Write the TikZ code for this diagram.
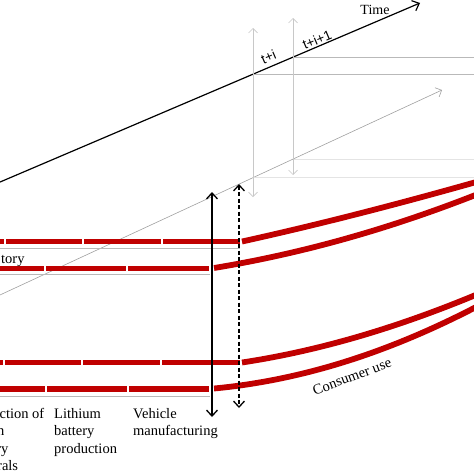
\documentclass[tikz,border=0pt]{standalone}
\usepackage{fontspec}
\setmainfont{Liberation Serif}
\newfontfamily\sansf{Liberation Sans}
\usetikzlibrary{arrows.meta}
\definecolor{bandred}{RGB}{192,0,0}
\definecolor{axisgray}{RGB}{160,160,160}
\definecolor{linegray}{RGB}{185,185,185}
\definecolor{vgray}{RGB}{200,200,200}
\definecolor{faintgray}{RGB}{228,228,228}
\begin{document}
\begin{tikzpicture}[x=1pt,y=-1pt,
  band/.style={bandred,line width=5.8pt},
  gapline/.style={white,line width=1.6pt},
  underline/.style={linegray,line width=0.6pt},
  hline/.style={linegray,line width=0.8pt},
  faintline/.style={faintgray,line width=0.6pt},
  garrow/.style={vgray,line width=0.7pt,{Straight Barb[length=4.5pt,width=9pt]}-{Straight Barb[length=4.5pt,width=9pt]}},
  barrow/.style={black,line width=1.3pt,{Straight Barb[length=6pt,width=11pt,line width=1.3pt]}-{Straight Barb[length=6pt,width=11pt,line width=1.3pt]}},
  lbl/.style={font=\fontsize{14.5}{17.5}\selectfont,inner sep=0pt,align=left},
  tlbl/.style={font=\sansf\fontsize{13.5}{15}\selectfont,inner sep=0pt},
]
\useasboundingbox (0,0) rectangle (474,474);
\clip (0,0) rectangle (474,474);

% axes
\coordinate (g0) at (-10,299.6);
\coordinate (g1) at (442,90);
\draw[axisgray,line width=0.6pt,-{Straight Barb[length=5pt,width=10pt]}] (g0) -- (g1);
\coordinate (t0) at (-10,186.3);
\coordinate (t1) at (420,3);
\draw[black,line width=1.2pt,-{Straight Barb[length=6pt,width=11pt,line width=1.2pt]}] (t0) -- (t1);
\node[font=\fontsize{14}{16}\selectfont,inner sep=0pt] (time) at (375,10) {Time};

% horizontal gray lines
\draw[hline] (253,74) -- (474,74);
\draw[hline] (293,57) -- (474,57);
\draw[faintline] (253,177.7) -- (474,177.7);
\draw[faintline] (293,159) -- (474,159);

% vertical gray double arrows
\coordinate (a1) at (253,28);
\coordinate (a2) at (253,197);
\coordinate (b1) at (293,18);
\coordinate (b2) at (293,175);
\draw[garrow] (a1) -- (a2);
\draw[garrow] (b1) -- (b2);
\node[tlbl,rotate=23] (ti) at (268.5,57) {t+i};
\node[tlbl,rotate=23] (ti1) at (317,39.5) {t+i+1};

% thin gray lines under bands
\draw[underline] (0,248) -- (240,248);
\draw[underline] (0,274.5) -- (210,274.5);
\draw[underline] (0,396) -- (210,396);

% red bands
\draw[band] (-5,241.5) -- (240,241.5);
\draw[band] (242,241.5) .. controls (313.7,225.7) and (391.3,206) .. (478,181.5);
\draw[band] (-5,268.5) -- (209,268.5);
\draw[band] (214,268) .. controls (300.7,253.7) and (387.3,229.7) .. (478,194);
\draw[band] (-5,362.5) -- (240,362.5);
\draw[band] (242,362.5) .. controls (318,351) and (395.7,328.3) .. (478,294);
\draw[band] (-5,389) -- (209,389);
\draw[band] (214,388.5) .. controls (300.7,380.3) and (387.3,353.3) .. (478,306);
% white gaps
\foreach \x in {5,83,162} \draw[gapline] (\x,238) -- (\x,245);
\foreach \x in {45,127} \draw[gapline] (\x,265) -- (\x,272);
\foreach \x in {4,82,161} \draw[gapline] (\x,359) -- (\x,366);
\foreach \x in {46,128} \draw[gapline] (\x,385.5) -- (\x,392.5);

% black double arrows
\coordinate (s1) at (212,192);
\coordinate (s2) at (212,417);
\coordinate (d1) at (239,184);
\coordinate (d2) at (239,408);
\draw[barrow] (s1) -- (s2);
\draw[barrow,dash pattern=on 4pt off 2.5pt] (d1) -- (d2);

% labels
\node[lbl,anchor=base west] (tory) at (1,263) {tory};
\node[lbl,anchor=north west] (extr) at (-32,408) {Extraction of\\Li-ion\\battery\\minerals};
\node[lbl,anchor=north west] (lith) at (54,408) {Lithium\\battery\\production};
\node[lbl,anchor=north west] (veh) at (133,408) {Vehicle\\manufacturing};
\node[lbl,rotate=20.5] (cons) at (352,376.5) {Consumer use};
\end{tikzpicture}
\end{document}
